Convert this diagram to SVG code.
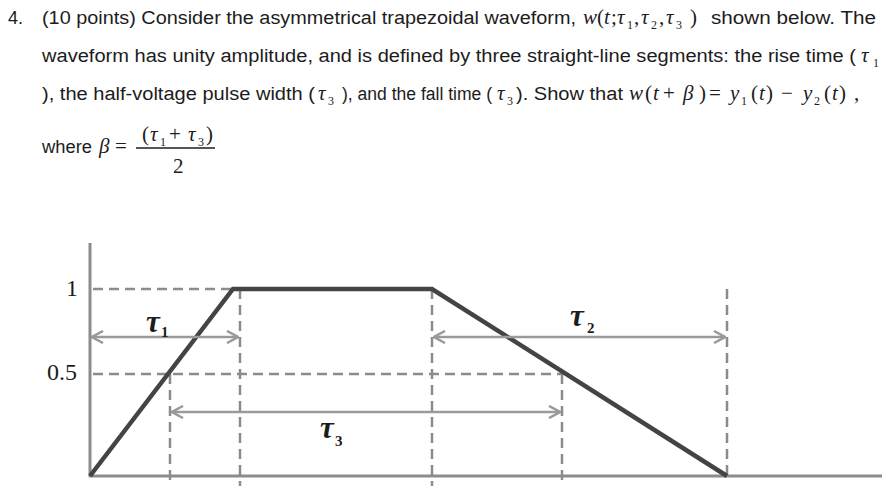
<svg xmlns="http://www.w3.org/2000/svg" width="882" height="491" viewBox="0 0 882 491">
<style>
  .body { font-family: "Liberation Sans", Arial, sans-serif; font-size: 18px; fill: #1c1c1c; }
  .m { font-family: "Liberation Serif", "Times New Roman", serif; font-style: italic; font-size: 21px; fill: #1c1c1c; }
  .mu { font-family: "Liberation Serif", "Times New Roman", serif; font-size: 21px; fill: #1c1c1c; }
  .sub { font-family: "Liberation Serif", "Times New Roman", serif; font-size: 12px; fill: #1c1c1c; }
  .axis { stroke: #8c8c8c; stroke-width: 3; fill: none; }
  .guide { stroke: #8c8c8c; stroke-width: 2.5; stroke-dasharray: 10 6; fill: none; }
  .wave { stroke: #444; stroke-width: 4.5; fill: none; stroke-linejoin: miter; }
  .dim { stroke: #9a9a9a; stroke-width: 2.5; fill: none; marker-start: url(#chev); marker-end: url(#chev); }
  .tick { font-family: "Liberation Serif", "Times New Roman", serif; font-size: 24px; fill: #1c1c1c; }
  .tau { font-family: "Liberation Serif", "Times New Roman", serif; font-style: italic; font-weight: bold; font-size: 31px; fill: #1c1c1c; }
  .tsub { font-family: "Liberation Serif", "Times New Roman", serif; font-weight: bold; font-size: 15px; fill: #1c1c1c; }
</style>
<defs>
  <marker id="chev" viewBox="-13 -7 14 14" refX="0" refY="0" markerWidth="14" markerHeight="14" markerUnits="userSpaceOnUse" orient="auto-start-reverse">
    <path d="M-11,-6 L0,0 L-11,6" fill="none" stroke="#9a9a9a" stroke-width="2.5"/>
  </marker>
</defs>
<rect width="882" height="491" fill="#ffffff"/>

<g id="question-text">
  <text class="body" x="8" y="24">4.</text>
  <text class="body" x="42" y="24" textLength="534" lengthAdjust="spacingAndGlyphs">(10 points) Consider the asymmetrical trapezoidal waveform,</text>
  <text class="m" x="583" y="24">w</text>
  <text class="mu" x="597" y="24">(</text>
  <text class="m" x="604" y="24">t</text>
  <text class="mu" x="611" y="24">;</text>
  <text class="m" x="617" y="24">τ</text>
  <text class="sub" x="627" y="29">1</text>
  <text class="mu" x="634" y="24">,</text>
  <text class="m" x="641" y="24">τ</text>
  <text class="sub" x="651" y="29">2</text>
  <text class="mu" x="659" y="24">,</text>
  <text class="m" x="666" y="24">τ</text>
  <text class="sub" x="676" y="29">3</text>
  <text class="mu" x="690" y="24">)</text>
  <text class="body" x="711" y="24" textLength="165" lengthAdjust="spacingAndGlyphs">shown below.  The</text>

  <text class="body" x="42" y="62" textLength="814" lengthAdjust="spacingAndGlyphs">waveform has unity amplitude, and is defined by three straight-line segments: the rise time (</text>
  <text class="m" x="861" y="62">τ</text>
  <text class="sub" x="873" y="67">1</text>

  <text class="body" x="42" y="100" textLength="273" lengthAdjust="spacingAndGlyphs">), the half-voltage pulse width (</text>
  <text class="m" x="318" y="100">τ</text>
  <text class="sub" x="328" y="105">3</text>
  <text class="body" font-size="17" x="342" y="100" textLength="150" lengthAdjust="spacingAndGlyphs">), and the fall time (</text>
  <text class="m" x="497" y="100">τ</text>
  <text class="sub" x="507" y="105">3</text>
  <text class="body" x="516" y="100" textLength="107" lengthAdjust="spacingAndGlyphs">).  Show that</text>
  <text class="m" x="629" y="100">w</text>
  <text class="mu" x="645" y="100">(</text>
  <text class="m" x="653" y="100">t</text>
  <text class="mu" x="663" y="100">+</text>
  <text class="m" x="683" y="100">β</text>
  <text class="mu" x="699" y="100">)</text>
  <text class="mu" x="709" y="100">=</text>
  <text class="m" x="730" y="100">y</text>
  <text class="sub" x="741" y="105">1</text>
  <text class="mu" x="751" y="100">(</text>
  <text class="m" x="759" y="100">t</text>
  <text class="mu" x="766" y="100">)</text>
  <text class="mu" x="781" y="100">−</text>
  <text class="m" x="803" y="100">y</text>
  <text class="sub" x="814" y="105">2</text>
  <text class="mu" x="824" y="100">(</text>
  <text class="m" x="832" y="100">t</text>
  <text class="mu" x="839" y="100">)</text>
  <text class="mu" x="854" y="100">,</text>

  <text class="body" x="42" y="153" textLength="50" lengthAdjust="spacingAndGlyphs">where</text>
  <text class="m" x="99" y="153" font-size="25">β</text>
  <text class="mu" x="115" y="153">=</text>
  <text class="mu" x="142" y="141">(</text>
  <text class="m" x="150" y="141">τ</text>
  <text class="sub" x="160" y="146">1</text>
  <text class="mu" x="169" y="141">+</text>
  <text class="m" x="188" y="141">τ</text>
  <text class="sub" x="198" y="146">3</text>
  <text class="mu" x="206" y="141">)</text>
  <line x1="136" y1="148" x2="215" y2="148" stroke="#1c1c1c" stroke-width="1.5"/>
  <text class="mu" x="173" y="173">2</text>
</g>

<g id="axes">
  <line class="axis" x1="90" y1="243" x2="90" y2="477"/>
  <line class="axis" x1="89" y1="476" x2="882" y2="476"/>
  <text class="tick" x="66" y="296">1</text>
  <text class="tick" x="47" y="380">0.5</text>
</g>

<g id="guides">
  <line class="guide" x1="93" y1="289" x2="233" y2="289"/>
  <line class="guide" x1="93" y1="374" x2="562" y2="374"/>
  <line class="guide" x1="240" y1="289" x2="240" y2="486"/>
  <line class="guide" x1="170" y1="374" x2="170" y2="486"/>
  <line class="guide" x1="432" y1="289" x2="432" y2="486"/>
  <line class="guide" x1="562" y1="374" x2="562" y2="486"/>
  <line class="guide" x1="727" y1="289" x2="727" y2="476"/>
</g>

<g id="waveform">
  <polyline class="wave" points="90,476 233,289 432,289 727,476"/>
</g>

<g id="connectors">
  <line class="dim" x1="92" y1="337" x2="238" y2="337"/>
  <line class="dim" x1="434" y1="337" x2="725" y2="337"/>
  <line class="dim" x1="172" y1="412" x2="560" y2="412"/>
</g>

<g id="labels">
  <g id="label-tau1"><text class="tau" x="146" y="332">τ</text><text class="tsub" x="161" y="337">1</text></g>
  <g id="label-tau2"><text class="tau" x="570" y="326">τ</text><text class="tsub" x="587" y="333">2</text></g>
  <g id="label-tau3"><text class="tau" x="320" y="438">τ</text><text class="tsub" x="335" y="446">3</text></g>
</g>
</svg>
